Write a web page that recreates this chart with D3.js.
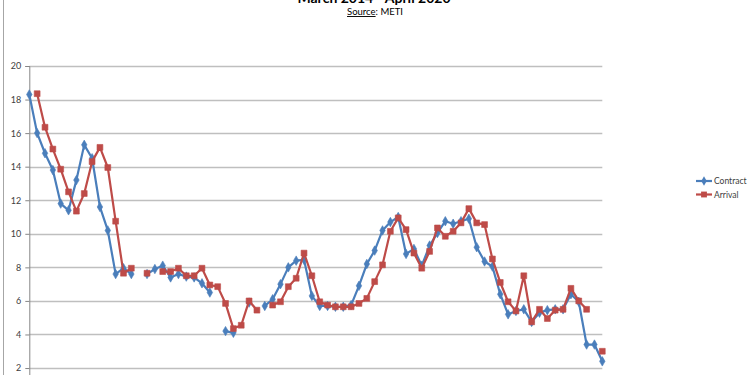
<!DOCTYPE html>
<html>
<head>
<meta charset="utf-8">
<script src="https://cdn.jsdelivr.net/npm/d3@7"></script>
<style>
  html, body { margin: 0; padding: 0; background: #fff; overflow: hidden; }
  svg { display: block; font-family: Lato, "Open Sans", sans-serif; }
</style>
</head>
<body>
<svg id="chart"></svg>
<script>
// months Mar 2014 .. Apr 2020
var months = d3.timeMonth.range(new Date(2014, 2, 1), new Date(2020, 4, 1))
  .map(d3.timeFormat('%b-%y'));

// series values (null = no data)
var contract = [
  18.3, 16.0, 14.8, 13.8, 11.8, 11.4, 13.2, 15.3, 14.5, 11.6,
  10.2, 7.6, 7.95, 7.6, null, 7.6, 7.9, 8.1, 7.4, 7.6,
  7.45, 7.4, 7.05, 6.5, null, 4.2, 4.1, null, 5.9, null,
  5.7, 6.1, 7.0, 8.0, 8.4, 8.45, 6.3, 5.7, 5.7, 5.65,
  5.65, 5.75, 6.9, 8.2, 9.0, 10.2, 10.7, 11.0, 8.8, 9.1,
  8.1, 9.3, 10.05, 10.75, 10.6, 10.75, 10.9, 9.2, 8.35, 8.05,
  6.4, 5.2, 5.4, 5.5, 4.75, 5.3, 5.45, 5.5, 5.5, 6.4,
  5.95, 3.4, 3.4, 2.4
];
var arrival = [
  null, 18.35, 16.35, 15.05, 13.85, 12.5, 11.35, 12.4, 14.3, 15.15,
  13.95, 10.75, 7.65, 7.95, null, 7.65, null, 7.75, 7.75, 7.95,
  7.5, 7.5, 7.95, 6.95, 6.85, 5.85, 4.35, 4.55, 6.0, 5.45,
  null, 5.75, 5.95, 6.85, 7.35, 8.85, 7.5, 5.95, 5.75, 5.65,
  5.65, 5.65, 5.85, 6.15, 7.15, 8.15, 10.15, 10.95, 10.25, 8.85,
  7.95, 8.95, 10.35, 9.85, 10.15, 10.65, 11.5, 10.65, 10.55, 8.5,
  7.1, 5.95, 5.4, 7.5, 4.75, 5.5, 4.95, 5.45, 5.5, 6.75,
  6.0, 5.5, null, 3.0
];
var yTicks = [0, 2, 4, 6, 8, 10, 12, 14, 16, 18, 20];
var seriesNames = ['Contract', 'Arrival'];
var seriesColors = ['#4a7ebb', '#be4b48'];

var width = 750;
var height = 375;
var plot = {left: 29.3, right: 602.3, top: 66, bottom: 401.6};

var svg = d3.select('#chart')
  .attr('width', width)
  .attr('height', height);

// chart border (left edge visible)
svg.append('line')
  .attr('x1', 3.5).attr('x2', 3.5)
  .attr('y1', 0).attr('y2', height)
  .style('stroke', '#a6a6a6')
  .style('stroke-width', 1);

// title (top line cropped away)
svg.append('text')
  .attr('x', 374).attr('y', 3)
  .attr('text-anchor', 'middle')
  .style('font-size', '14px')
  .style('font-weight', 'bold')
  .style('fill', '#000')
  .text('March 2014 - April 2020');

var src = svg.append('text')
  .attr('x', 375).attr('y', 15)
  .attr('text-anchor', 'middle')
  .style('font-size', '9.5px')
  .style('fill', '#000');
src.append('tspan').style('text-decoration', 'underline').text('Source');
src.append('tspan').text(': METI');

// scales
var x = d3.scalePoint()
  .domain(months)
  .range([plot.left, plot.right]);

var y = d3.scaleLinear()
  .domain([0, 20])
  .range([plot.bottom, plot.top]);

// gridlines
svg.append('g')
  .selectAll('line')
  .data(yTicks.filter(function(d) { return d > 0; }))
  .enter()
  .append('line')
    .attr('x1', plot.left).attr('x2', plot.right)
    .attr('y1', function(d) { return Math.round(y(d)) + 0.5; })
    .attr('y2', function(d) { return Math.round(y(d)) + 0.5; })
    .style('stroke', '#bfbfbf')
    .style('stroke-width', 1.3);

// y axis
var yAxis = svg.append('g')
  .attr('transform', 'translate(' + plot.left + ',0)')
  .call(d3.axisLeft(y).tickValues(yTicks).tickSize(4).tickPadding(4));
yAxis.select('.domain').style('stroke', '#868686');
yAxis.selectAll('.tick line').style('stroke', '#868686');
yAxis.selectAll('.tick text')
  .style('font-size', '9px')
  .style('fill', '#404040')
  .style('font-family', 'Lato, "Open Sans", sans-serif');

// x axis (falls below the cropped picture)
var xAxis = svg.append('g')
  .attr('transform', 'translate(0,' + plot.bottom + ')')
  .call(d3.axisBottom(x).tickValues([]).tickSize(0));
xAxis.select('.domain').style('stroke', '#868686');

// lines
var line = d3.line()
  .defined(function(d) { return d.v != null; })
  .x(function(d) { return x(d.m); })
  .y(function(d) { return y(d.v); });

var series = [contract, arrival].map(function(vals, k) {
  return {
    name: seriesNames[k],
    color: seriesColors[k],
    values: vals.map(function(v, i) { return {m: months[i], v: v}; })
  };
});

var symbols = [d3.symbol().type(d3.symbolDiamond).size(26),
               d3.symbol().type(d3.symbolSquare).size(34)];

series.forEach(function(s, k) {
  svg.append('path')
    .datum(s.values)
    .attr('d', line)
    .style('fill', 'none')
    .style('stroke', s.color)
    .style('stroke-width', 2.2)
    .style('stroke-linejoin', 'round');

  svg.append('g')
    .selectAll('path')
    .data(s.values.filter(function(d) { return d.v != null; }))
    .enter()
    .append('path')
      .attr('transform', function(d) { return 'translate(' + x(d.m) + ',' + y(d.v) + ')'; })
      .attr('d', symbols[k])
      .style('fill', s.color)
      .style('stroke', s.color)
      .style('stroke-width', 0.6);
});

// legend
var legend = svg.append('g')
  .selectAll('g')
  .data(series)
  .enter()
  .append('g')
    .attr('transform', function(d, i) { return 'translate(696,' + (181 + i * 13.5) + ')'; });

legend.append('line')
  .attr('x1', 0).attr('x2', 16)
  .style('stroke', function(d) { return d.color; })
  .style('stroke-width', 2.2);
legend.append('path')
  .attr('transform', 'translate(8,0)')
  .attr('d', function(d, i) { return symbols[i](); })
  .style('fill', function(d) { return d.color; });
legend.append('text')
  .attr('x', 18).attr('y', 3)
  .style('font-size', '8.5px')
  .style('fill', '#404040')
  .text(function(d) { return d.name; });
</script>
</body>
</html>
